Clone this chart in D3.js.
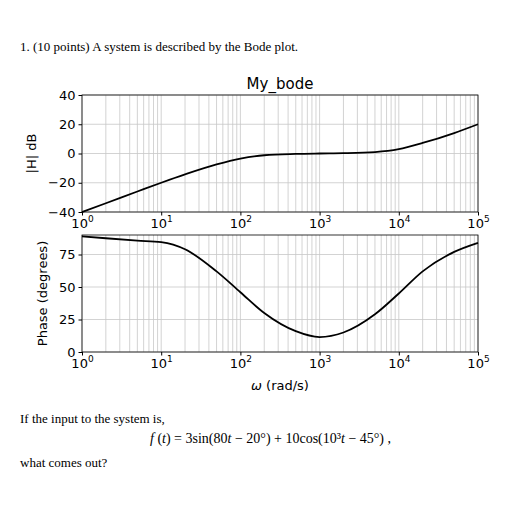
<!DOCTYPE html>
<html><head><meta charset="utf-8">
<script src="https://cdn.jsdelivr.net/npm/d3@7"></script>
<style>body{margin:0;background:#fff}</style>
</head><body>
<script>
var width = 515, height = 518
var omega = [1, 2, 5, 10, 20, 50, 100, 200, 500, 1000, 2000, 5000, 10000, 20000, 50000, 100000]
var magDb = [-40, -34, -26, -20, -14.3, -7.5, -3.5, -1.2, -0.3, 0, 0.2, 1, 3, 7.2, 14, 20]
var phaseDeg = [89, 87.5, 85.7, 84.5, 79, 62, 46, 30, 16, 11.5, 15, 29, 45, 62, 77, 84]
var magTicks = [-40, -20, 0, 20, 40]
var phaseTicks = [0, 25, 50, 75]
var decades = [1, 10, 100, 1000, 10000, 100000]

var svg = d3.select("body").append("svg").attr("width", width).attr("height", height)
var x = d3.scaleLog().domain([1, 1e5]).range([82, 478])
var yMag = d3.scaleLinear().domain([-40, 40]).range([212, 95])
var yPh = d3.scaleLinear().domain([0, 90]).range([352, 235])

var minors = []
decades.slice(0, 5).forEach(function(d){ for (var k = 1; k < 10; k++) minors.push(d * k) })
minors.push(1e5)

function panel(y, ticks, vals, label){
  var g = svg.append("g")
  var r = y.range()
  g.selectAll("line.gx").data(minors).enter().append("line")
    .attr("x1", x).attr("x2", x).attr("y1", r[1]).attr("y2", r[0])
    .attr("stroke", "#c8c8c8").attr("stroke-width", 0.8)
  g.selectAll("line.gy").data(ticks).enter().append("line")
    .attr("x1", 82).attr("x2", 478).attr("y1", y).attr("y2", y)
    .attr("stroke", "#c8c8c8").attr("stroke-width", 0.8)
  g.append("rect").attr("x", 82).attr("y", r[1]).attr("width", 396).attr("height", r[0] - r[1])
    .attr("fill", "none").attr("stroke", "#000").attr("stroke-width", 0.8)
  var ax = g.append("g").attr("transform", "translate(0," + r[0] + ")")
    .call(d3.axisBottom(x).tickValues(decades).tickFormat("").tickSize(3.5).tickSizeOuter(0))
  ax.select(".domain").remove()
  ax.selectAll(".tick").append("text").attr("y", 16).attr("text-anchor", "middle")
    .attr("font-size", 13).attr("font-family", "DejaVu Sans").attr("fill", "#000")
    .html(function(d){ return "10<tspan dy='-6' font-size='9'>" + Math.round(Math.log10(d)) + "</tspan>" })
  var ay = g.append("g").attr("transform", "translate(82,0)")
    .call(d3.axisLeft(y).tickValues(ticks).tickFormat(function(d){ return d < 0 ? "−" + (-d) : d }).tickSize(3.5))
  ay.select(".domain").remove()
  ay.selectAll("text").attr("font-size", 13).attr("font-family", "DejaVu Sans").attr("fill", "#000")
  g.append("path").datum(omega)
    .attr("d", d3.line().x(function(d){ return x(d) }).y(function(d, i){ return y(vals[i]) }).curve(d3.curveMonotoneX))
    .attr("fill", "none").attr("stroke", "#000").attr("stroke-width", 1.8)
  g.append("text").attr("transform", "translate(" + (label.x) + "," + ((r[0] + r[1]) / 2) + ") rotate(-90)")
    .attr("text-anchor", "middle").attr("font-family", "DejaVu Sans").attr("font-size", 13).text(label.t)
}
panel(yMag, magTicks, magDb, {x: 36, t: "|H| dB"})
panel(yPh, phaseTicks, phaseDeg, {x: 47, t: "Phase (degrees)"})

svg.append("text").attr("x", 280).attr("y", 89).attr("text-anchor", "middle")
  .attr("font-family", "DejaVu Sans").attr("font-size", 15).text("My_bode")
svg.append("text").attr("x", 280).attr("y", 390).attr("text-anchor", "middle")
  .attr("font-family", "DejaVu Sans").attr("font-size", 13).html("<tspan font-style='italic'>ω</tspan> (rad/s)")

var serif = "Liberation Serif"
svg.append("text").attr("x", 20).attr("y", 51).attr("font-family", serif).attr("font-size", 13)
  .text("1. (10 points)  A system is described by the Bode plot.")
svg.append("text").attr("x", 20).attr("y", 423).attr("font-family", serif).attr("font-size", 13)
  .text("If the input to the system is,")
svg.append("text").attr("x", 150).attr("y", 443).attr("font-family", serif).attr("font-size", 14)
  .html("<tspan font-style='italic'>f</tspan> (<tspan font-style='italic'>t</tspan>) = 3sin(80<tspan font-style='italic'>t</tspan> − 20°) + 10cos(10³<tspan font-style='italic'>t</tspan> − 45°) ,")
svg.append("text").attr("x", 20).attr("y", 467).attr("font-family", serif).attr("font-size", 13)
  .text("what comes out?")
</script>
</body></html>
